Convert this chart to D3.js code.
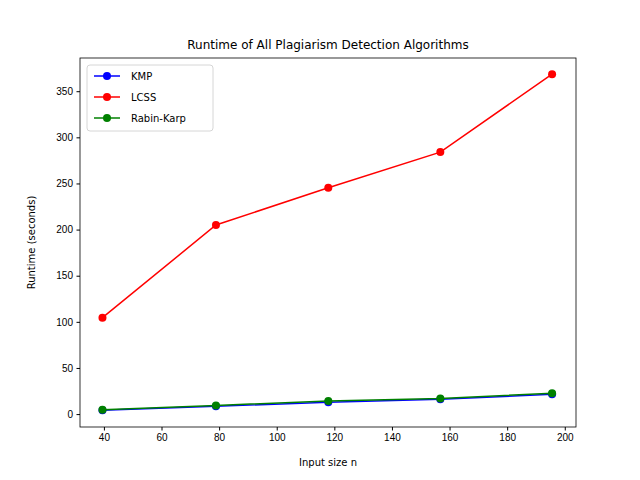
<!DOCTYPE html>
<html><head><meta charset="utf-8">
<script src="https://cdn.jsdelivr.net/npm/d3@7"></script>
<style>body{margin:0;background:#fff}svg{font-family:"DejaVu Sans",sans-serif}</style>
</head><body><svg id="chart"></svg>
<script>
const sizes = [39.5, 78.9, 117.9, 156.8, 195.6];
const kmp = [4.2, 8.5, 12.8, 16.0, 21.5];
const lcss = [104.5, 205.0, 245.3, 284.0, 368.5];
const rabinKarp = [4.6, 9.4, 14.3, 16.8, 22.6];
const xTicks = [40, 60, 80, 100, 120, 140, 160, 180, 200];
const yTicks = [0, 50, 100, 150, 200, 250, 300, 350];

const width = 640, height = 480;
const padL = 80, padR = 576, padT = 58, padB = 427;
const svg = d3.select("#chart").attr("width", width).attr("height", height);

const x = d3.scaleLinear().domain([31.7, 203.9]).range([padL, padR]);
const y = d3.scaleLinear().domain([-14, 386]).range([padB, padT]);

svg.append("g").attr("transform", `translate(0,${padB})`)
  .call(d3.axisBottom(x).tickValues(xTicks).tickSizeOuter(0).tickSize(3.5).tickPadding(3.5))
  .call(g => g.selectAll("text").attr("font-size", 10).attr("fill", "#000"));
svg.append("g").attr("transform", `translate(${padL},0)`)
  .call(d3.axisLeft(y).tickValues(yTicks).tickSizeOuter(0).tickSize(3.5).tickPadding(3.5))
  .call(g => g.selectAll("text").attr("font-size", 10).attr("fill", "#000"));
svg.selectAll(".domain").remove();
svg.append("rect").attr("x", padL).attr("y", padT).attr("width", padR - padL).attr("height", padB - padT)
  .attr("fill", "none").attr("stroke", "#000").attr("stroke-width", 0.8);

const series = [["KMP", kmp, "#0000ff"], ["LCSS", lcss, "#ff0000"], ["Rabin-Karp", rabinKarp, "#008000"]];
const line = d3.line().x((d, i) => x(sizes[i])).y(d => y(d));
series.forEach(([name, vals, c]) => {
  svg.append("path").attr("d", line(vals)).attr("fill", "none").attr("stroke", c).attr("stroke-width", 1.5);
  svg.selectAll(null).data(vals).enter().append("circle")
    .attr("cx", (d, i) => x(sizes[i])).attr("cy", d => y(d)).attr("r", 4).attr("fill", c);
});

const lg = svg.append("g").attr("transform", "translate(87,65)");
lg.append("rect").attr("width", 126).attr("height", 66).attr("rx", 3).attr("fill", "#fff")
  .attr("stroke", "#ccc").attr("stroke-width", 0.8);
series.forEach(([name, vals, c], i) => {
  const yy = 11 + i * 21;
  lg.append("line").attr("x1", 7).attr("x2", 33).attr("y1", yy).attr("y2", yy).attr("stroke", c).attr("stroke-width", 1.5);
  lg.append("circle").attr("cx", 20).attr("cy", yy).attr("r", 4).attr("fill", c);
  lg.append("text").attr("x", 44).attr("y", yy + 4).attr("font-size", 10).text(name);
});

svg.append("text").attr("x", (padL + padR) / 2).attr("y", 49).attr("text-anchor", "middle")
  .attr("font-size", 12).text("Runtime of All Plagiarism Detection Algorithms");
svg.append("text").attr("x", (padL + padR) / 2).attr("y", 466).attr("text-anchor", "middle")
  .attr("font-size", 10).text("Input size n");
svg.append("text").attr("transform", `translate(35,${(padT + padB) / 2}) rotate(-90)`).attr("text-anchor", "middle")
  .attr("font-size", 10).text("Runtime (seconds)");
</script></body></html>
